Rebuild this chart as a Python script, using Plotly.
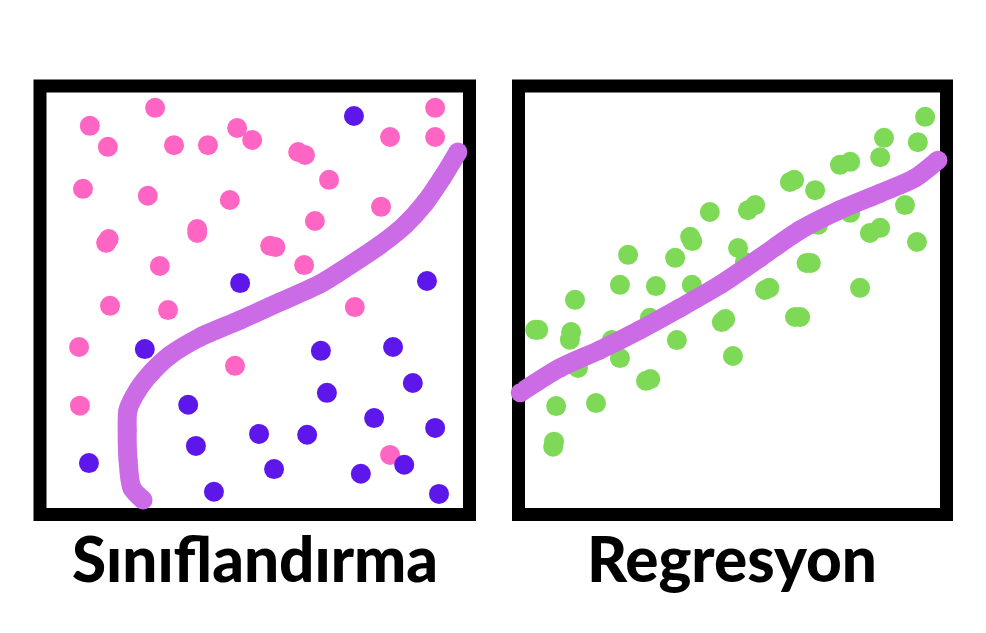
import plotly.graph_objects as go

# ---- Data (panel coordinates 0..100) ----
pink_x = [26.8, 11.6, 15.8, 31.2, 39.1, 45.9, 49.4, 60.1, 61.7, 67.3, 81.5, 92.0, 92.0, 10.0, 25.1,
          44.2, 79.4, 64.0, 36.6, 36.6, 15.4, 16.0, 53.6, 54.8, 27.9, 61.5, 16.3, 29.8, 73.3, 9.1, 45.4, 9.3, 81.5]
pink_y = [94.9, 90.7, 85.8, 86.2, 86.2, 90.2, 87.4, 84.6, 83.9, 78.1, 88.1, 94.9, 88.1, 76.0, 74.4,
          73.4, 71.8, 68.5, 65.7, 66.6, 63.4, 64.3, 62.7, 62.4, 58.0, 58.2, 48.7, 47.7, 48.4, 39.1, 34.7, 25.4, 13.9]

violet_x = [73.1, 46.6, 90.1, 24.4, 65.4, 82.2, 86.8, 66.8, 34.5, 77.8, 92.0, 36.3, 51.0, 62.2,
            11.4, 54.5, 74.7, 84.8, 40.5, 92.9]
violet_y = [93.0, 54.0, 54.5, 38.6, 38.2, 39.1, 30.7, 28.4, 25.6, 22.5, 20.2, 16.0, 18.8, 18.6,
            12.0, 10.6, 9.5, 11.6, 5.3, 4.8]

boundary_x = [24.0, 21.4, 20.5, 20.3, 20.5, 22.8, 26.1, 30.3, 37.3, 46.6, 55.9, 65.2, 72.2, 79.2, 85.0, 89.6, 93.6, 97.3]
boundary_y = [3.4, 6.2, 12.7, 19.7, 24.4, 29.1, 33.3, 37.2, 41.4, 45.4, 49.6, 53.8, 58.2, 62.9, 67.6, 72.7, 78.5, 84.6]

green_x = [95.0, 85.4, 93.3, 84.5, 75.1, 77.5, 63.4, 64.4, 69.3, 53.6, 55.3, 44.7, 90.3, 77.5, 70.0, 84.5,
           40.1, 40.6, 82.1, 93.1, 51.3, 25.6, 36.6, 52.9, 68.3, 67.3, 23.7, 32.1, 40.5, 57.6, 58.6, 79.8, 13.2,
           30.7, 47.5, 48.3, 65.8, 64.6, 4.6, 3.9, 12.3, 12.0, 21.8, 37.0, 23.7, 50.1, 13.9, 29.8, 30.8, 8.8, 18.1, 8.1, 8.3]
green_y = [92.8, 87.9, 86.9, 83.4, 81.6, 82.3, 77.6, 78.1, 75.7, 71.0, 72.2, 70.6, 72.2, 70.4, 67.6, 66.9,
           64.8, 63.8, 65.7, 63.6, 62.2, 60.6, 59.9, 58.9, 58.7, 58.7, 53.6, 53.3, 53.6, 52.4, 52.9, 52.9, 50.1,
           45.9, 44.9, 45.6, 46.1, 46.1, 43.1, 43.1, 42.6, 40.8, 40.7, 40.7, 36.5, 37.0, 34.2, 31.2, 31.6, 25.3, 26.0, 15.8, 17.0]

trend_x = [0.4, 9.7, 19.0, 28.4, 37.7, 47.1, 56.4, 65.8, 75.1, 84.5, 92.6, 98.0]
trend_y = [28.4, 34.2, 38.4, 43.1, 48.2, 53.6, 59.9, 66.4, 71.1, 75.0, 78.5, 82.7]

titles = ["Sınıflandırma", "Regresyon"]

PINK = "#FF66C4"
VIOLET = "#5E17EB"
ORCHID = "#CB6CE6"
GREEN = "#7ED957"

W, H = 986, 633
OFF = 8  # page body margin
fig = go.Figure()

# left panel
fig.add_trace(go.Scatter(x=pink_x, y=pink_y, mode="markers", xaxis="x", yaxis="y",
                         marker=dict(color=PINK, size=20, line=dict(width=0)), cliponaxis=False))
fig.add_trace(go.Scatter(x=violet_x, y=violet_y, mode="markers", xaxis="x", yaxis="y",
                         marker=dict(color=VIOLET, size=20, line=dict(width=0)), cliponaxis=False))
fig.add_trace(go.Scatter(x=boundary_x, y=boundary_y, mode="lines+markers", xaxis="x", yaxis="y",
                         line=dict(color=ORCHID, width=19, shape="spline", smoothing=0.8),
                         marker=dict(color=ORCHID, size=19, line=dict(width=0)), cliponaxis=False))
# right panel
fig.add_trace(go.Scatter(x=green_x, y=green_y, mode="markers", xaxis="x2", yaxis="y2",
                         marker=dict(color=GREEN, size=20, line=dict(width=0)), cliponaxis=False))
fig.add_trace(go.Scatter(x=trend_x, y=trend_y, mode="lines+markers", xaxis="x2", yaxis="y2",
                         line=dict(color=ORCHID, width=19, shape="spline", smoothing=0.8),
                         marker=dict(color=ORCHID, size=19, line=dict(width=0)), cliponaxis=False))

def px_x(v):
    return (v - OFF) / W

def px_y(v):
    return (H - (v - OFF)) / H

ax_common = dict(range=[0, 100], showgrid=False, zeroline=False, showticklabels=False,
                 ticks="", showline=False, fixedrange=True)
fig.update_layout(
    width=W, height=H, showlegend=False,
    margin=dict(l=0, r=0, t=0, b=0),
    paper_bgcolor="white", plot_bgcolor="white",
    xaxis=dict(domain=[px_x(40), px_x(469.5)], **ax_common),
    yaxis=dict(domain=[px_y(514.5), px_y(86)], **ax_common),
    xaxis2=dict(domain=[px_x(518.5), px_x(946.5)], anchor="y2", **ax_common),
    yaxis2=dict(domain=[px_y(514.5), px_y(86)], anchor="x2", **ax_common),
)

for xr, yr in [("x domain", "y domain"), ("x2 domain", "y2 domain")]:
    fig.add_shape(type="rect", xref=xr, yref=yr, x0=0, x1=1, y0=0, y1=1,
                  line=dict(color="black", width=13), layer="below")

centers = [255, 732]
for t, cx in zip(titles, centers):
    fig.add_annotation(text=t, xref="paper", yref="paper", x=px_x(cx), y=px_y(558),
                       xanchor="center", yanchor="middle", showarrow=False,
                       font=dict(family="Lato", size=62, color="black", weight=900))

fig.write_html("out.html")
